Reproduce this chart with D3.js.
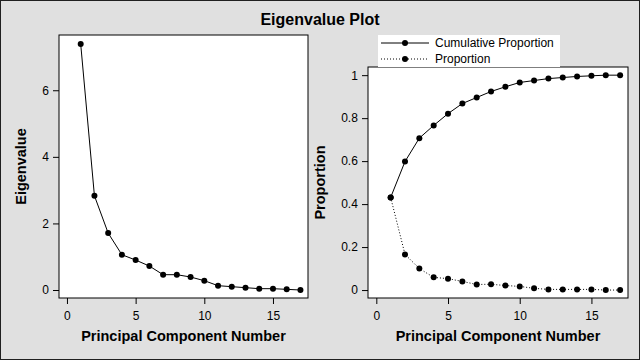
<!DOCTYPE html>
<html>
<head>
<meta charset="utf-8">
<script src="https://cdn.jsdelivr.net/npm/d3@7"></script>
<style>
  body { margin: 0; background: #fff; }
  svg { display: block; font-family: "Liberation Sans", Arial, sans-serif; }
</style>
</head>
<body>
<svg id="chart" width="640" height="360"></svg>
<script>
const components = d3.range(1, 18)
const eigenvalues = [7.39, 2.83, 1.71, 1.06, 0.90, 0.72, 0.46, 0.46, 0.39, 0.28, 0.13, 0.10, 0.07, 0.04, 0.04, 0.02, 0.00]
const proportion = [0.431, 0.166, 0.100, 0.059, 0.053, 0.040, 0.026, 0.027, 0.021, 0.017, 0.008, 0.003, 0.003, 0.003, 0.003, 0.000, 0.000]
const cumulative = [0.431, 0.598, 0.707, 0.766, 0.821, 0.868, 0.896, 0.924, 0.946, 0.966, 0.975, 0.984, 0.989, 0.994, 0.997, 1.000, 1.000]
const xTicks = [0, 5, 10, 15]
const eigenTicks = [0, 2, 4, 6]
const propTicks = [0, 0.2, 0.4, 0.6, 0.8, 1]
const legendLabels = ["Cumulative Proportion", "Proportion"]

const svg = d3.select("#chart")

svg.append("rect")
  .attr("x", 0.5).attr("y", 0.5)
  .attr("width", 639).attr("height", 359)
  .attr("fill", "#e0e0e0")
  .attr("stroke", "#202020")

svg.append("text")
  .attr("x", 320).attr("y", 25)
  .attr("text-anchor", "middle")
  .attr("font-size", 16).attr("font-weight", "bold")
  .text("Eigenvalue Plot")

// draws one panel frame + axes, returns the scales
function panel(box, yDomain, yTicks, yFmt, yLabel, labelX) {
  const x = d3.scaleLinear().domain([-0.58, 17.55]).range([box.left, box.right])
  const y = d3.scaleLinear().domain(yDomain).range([box.bottom, box.top])

  svg.append("rect")
    .attr("x", box.left).attr("y", box.top)
    .attr("width", box.right - box.left).attr("height", box.bottom - box.top)
    .attr("fill", "#fff").attr("stroke", "#000")

  const gx = svg.append("g")
    .attr("transform", "translate(0," + box.bottom + ")")
    .call(d3.axisBottom(x).tickValues(xTicks).tickSize(6).tickSizeOuter(0).tickFormat(d3.format("d")))
  const gy = svg.append("g")
    .attr("transform", "translate(" + box.left + ",0)")
    .call(d3.axisLeft(y).tickValues(yTicks).tickSize(6).tickSizeOuter(0).tickFormat(yFmt))

  ;[gx, gy].forEach(g => {
    g.select(".domain").remove()
    g.selectAll("text").attr("font-size", 12).attr("fill", "#000")
      .attr("font-family", "'Liberation Sans', Arial, sans-serif")
    g.selectAll("line").attr("stroke", "#000")
  })
  gx.selectAll("text").attr("dy", "1.05em")
  gy.selectAll("text").attr("dx", "-0.1em")

  svg.append("text")
    .attr("x", (box.left + box.right) / 2).attr("y", 341)
    .attr("text-anchor", "middle")
    .attr("font-size", 14.5).attr("font-weight", "bold")
    .text("Principal Component Number")

  svg.append("text")
    .attr("transform", "translate(" + labelX + "," + ((box.top + box.bottom) / 2) + ") rotate(-90)")
    .attr("text-anchor", "middle")
    .attr("font-size", 14.5).attr("font-weight", "bold")
    .text(yLabel)

  return { x, y }
}

function series(s, values, dash) {
  const line = d3.line()
    .x((d, i) => s.x(components[i]))
    .y(d => s.y(d))
  svg.append("path")
    .datum(values)
    .attr("d", line)
    .attr("fill", "none")
    .attr("stroke", "#000")
    .attr("stroke-width", 1)
    .attr("stroke-dasharray", dash)
  svg.append("g").selectAll("circle")
    .data(values)
    .enter().append("circle")
    .attr("cx", (d, i) => s.x(components[i]))
    .attr("cy", d => s.y(d))
    .attr("r", 3)
    .attr("fill", "#000")
}

const left = panel({ left: 59, right: 308, top: 35, bottom: 298 }, [-0.24, 7.66], eigenTicks, d3.format("d"), "Eigenvalue", 26)
series(left, eigenvalues, null)

const right = panel({ left: 368, right: 628, top: 67, bottom: 298 }, [-0.037, 1.038], propTicks, d => d === 0 || d === 1 ? d : d3.format(".1f")(d), "Proportion", 325)
series(right, cumulative, null)
series(right, proportion, "1,2")

// legend
const legend = svg.append("g")
legend.append("rect")
  .attr("x", 378).attr("y", 35)
  .attr("width", 182).attr("height", 32)
  .attr("fill", "#fff")
legendLabels.forEach((name, i) => {
  const cy = 43 + i * 16
  legend.append("line")
    .attr("x1", 381).attr("x2", 429)
    .attr("y1", cy).attr("y2", cy)
    .attr("stroke", "#000")
    .attr("stroke-dasharray", i === 0 ? null : "1,2")
  legend.append("circle")
    .attr("cx", 405).attr("cy", cy).attr("r", 3).attr("fill", "#000")
  legend.append("text")
    .attr("x", 435).attr("y", cy + 4)
    .attr("font-size", 12)
    .text(name)
})
</script>
</body>
</html>
